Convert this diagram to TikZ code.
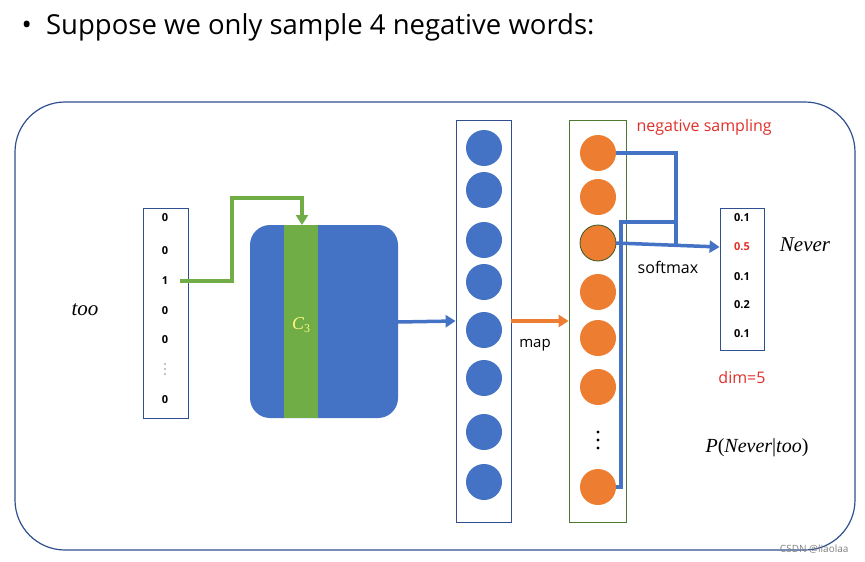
\documentclass[tikz,border=0pt]{standalone}
\usepackage{fontspec}
\setmainfont{Open Sans}
\newfontfamily\mathserif{Liberation Serif}
\usetikzlibrary{arrows.meta}
\definecolor{myblue}{HTML}{4472C4}
\definecolor{myorange}{HTML}{ED7D31}
\definecolor{mygreen}{HTML}{70AD47}
\definecolor{myred}{HTML}{E0302A}
\definecolor{frameblue}{HTML}{2F4F8F}
\tikzset{
	bluedot/.style={circle,fill=myblue,minimum size=36pt,inner sep=0pt},
	orangedot/.style={circle,fill=myorange,minimum size=36pt,inner sep=0pt},
	entry/.style={font=\fontsize{11}{11}\selectfont\bfseries,inner sep=0pt},
	pipe/.style={line width=3.5pt},
	tip/.style={-{Triangle[length=10pt,width=12pt]}},
	mathlbl/.style={font=\fontsize{21}{21}\selectfont\mathserif\itshape,inner sep=0pt}
}
\begin{document}
\begin{tikzpicture}[x=1pt,y=-1pt]
					\useasboundingbox (0,0) rectangle (865,562);
					\node[anchor=west,font=\fontsize{27.5}{27.5}\selectfont] (title) at (18,27) {\textbullet\ \ Suppose we only sample 4 negative words:};
					\draw[frameblue,line width=1.2pt,rounded corners=50pt] (15,102) rectangle (855,550);
					% one-hot input
					\node[draw=frameblue,thick,minimum width=45pt,minimum height=210pt,inner sep=0pt] (onehot) at (165.5,313) {};
					\foreach \v/\y [count=\i] in {0/218,0/251,1/281,0/311,0/340,0/400}
						\node[entry] (x\i) at (165,\y) {\v};
					\foreach \y in {364,369,374}
						\fill (165,\y) circle (0.6pt);
					\node[mathlbl] (too) at (85,310) {too};
					% embedding matrix
					\fill[myblue,rounded corners=20pt] (250,225) rectangle (398,418);
					\fill[mygreen] (284,225) rectangle (318,418);
					\node[mathlbl,text=yellow!50!white,font=\fontsize{18}{18}\selectfont\mathserif\itshape] (c3) at (301,325) {C\raisebox{-3pt}{\fontsize{12}{12}\selectfont\upshape 3}};
					\coordinate (mtop) at (302,225);
					\coordinate (mright) at (398,322);
					\draw[mygreen,pipe,tip] (180,281) -- (232,281) -- (232,198) -- (302,198) -- (mtop);
					% hidden layer
					\node[draw=frameblue,thick,minimum width=55pt,minimum height=402pt,inner sep=0pt] (hid) at (483.5,321) {};
					\foreach \y [count=\i] in {148,190,240,282,330,378,432,482}
						\node[bluedot] (h\i) at (484,\y) {};
					\draw[myblue,pipe,tip] (mright) -- (hid.west);
					% output layer
					\node[draw=mygreen!70!black,thick,minimum width=57pt,minimum height=402pt,inner sep=0pt] (out) at (597.5,321) {};
					\foreach \y [count=\i] in {153,197,243,292,338,387}
						\node[orangedot] (o\i) at (598,\y) {};
					\foreach \y in {432,440,448}
						\fill (598,\y) circle (1.6pt);
					\node[orangedot] (o8) at (598,487) {};
					\draw[mygreen!50!black,thick] (o3) circle (18pt);
					\draw[myorange,pipe,tip] (hid.east) -- (out.west);
					\node[font=\fontsize{15}{15}\selectfont] (map) at (535,345) {map};
					\node[text=myred,font=\fontsize{16}{16}\selectfont,anchor=west] (neg) at (633,127) {negative sampling};
					% softmax output
					\node[draw=frameblue,thick,minimum width=44pt,minimum height=142pt,inner sep=0pt] (prob) at (742,279) {};
					\foreach \v/\y/\c [count=\i] in {0.1/218/black,0.5/247/myred,0.1/277/black,0.2/305/black,0.1/334/black}
						\node[entry,text=\c] (p\i) at (742,\y) {\v};
					\coordinate (j1) at (676,153);
					\coordinate (j2) at (676,222);
					\coordinate (j3) at (621,222);
					\draw[myblue,pipe] (o1.east) -- (j1) -- (676,245);
					\draw[myblue,pipe] (o8.east) -| (j3) -- (j2);
					\draw[myblue,pipe,tip] (o3.east) -- (prob.west |- p2);
					\node[font=\fontsize{16}{16}\selectfont] (soft) at (668,267) {softmax};
					\node[mathlbl] (never) at (805,245) {Never};
					\node[text=myred,font=\fontsize{16}{16}\selectfont] (dim) at (742,377) {dim=5};
					\node[mathlbl,font=\fontsize{20}{20}\selectfont\mathserif] (pnt) at (757,448) {\textit{P}(\textit{Never}|\textit{too})};
					\node[text=gray,font=\fontsize{10}{10}\selectfont,anchor=east] (mark) at (852,549) {CSDN @liaolaa};
\end{tikzpicture}
\end{document}
